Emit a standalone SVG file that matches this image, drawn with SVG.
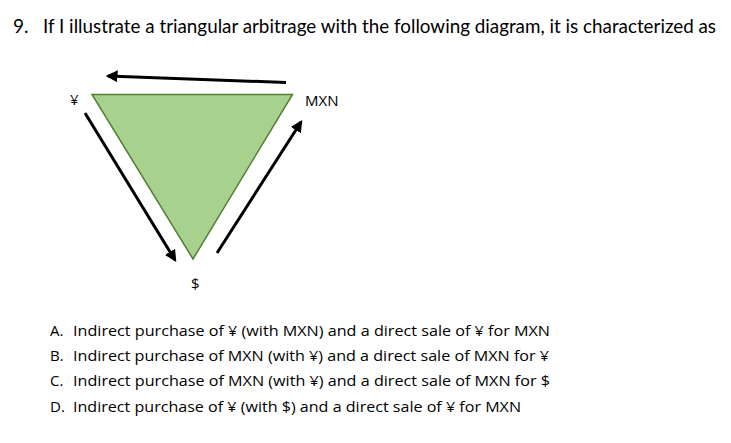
<svg xmlns="http://www.w3.org/2000/svg" width="731" height="443" viewBox="0 0 731 443">
<style>
.title{font-family:Lato,"Liberation Sans",sans-serif;font-size:19px;fill:#000}
.opt{font-family:"Open Sans","Noto Sans",sans-serif;font-size:15px;fill:#000}
.lbl{font-family:"Open Sans","Noto Sans",sans-serif;font-size:15px;fill:#000}
.arr{stroke:#000;stroke-width:3;fill:none;marker-end:url(#ah)}
</style>
<defs>
<marker id="ah" viewBox="0 0 10 10" refX="8" refY="5" markerWidth="4" markerHeight="4" orient="auto" markerUnits="strokeWidth">
<path d="M0,0 L10,5 L0,10 z" fill="#000"/>
</marker>
</defs>
<rect width="731" height="443" fill="#fff"/>
<g id="title">
<text class="title" x="13" y="33">9.</text>
<text class="title" x="43" y="33" textLength="673" lengthAdjust="spacingAndGlyphs">If I illustrate a triangular arbitrage with the following diagram, it is characterized as</text>
</g>
<g id="triangle">
<polygon points="92,94.5 292.5,94.5 193,259" fill="#A9D18E" stroke="#507E32" stroke-width="1.5" stroke-linejoin="miter"/>
</g>
<g id="node-yen"><text class="lbl" x="70" y="105">¥</text></g>
<g id="node-mxn"><text class="lbl" x="305" y="106">MXN</text></g>
<g id="node-usd"><text class="lbl" x="191" y="289">$</text></g>
<g id="connectors">
<line class="arr" x1="286" y1="82.5" x2="108" y2="76"/>
<line class="arr" x1="85" y1="113" x2="175" y2="260"/>
<line class="arr" x1="217" y1="253" x2="301" y2="122"/>
</g>
<g id="options">
<text class="opt" x="50" y="336">A.</text>
<text class="opt" x="73" y="336" textLength="477" lengthAdjust="spacingAndGlyphs">Indirect purchase of ¥ (with MXN) and a direct sale of ¥ for MXN</text>
<text class="opt" x="50" y="361">B.</text>
<text class="opt" x="73" y="361" textLength="476" lengthAdjust="spacingAndGlyphs">Indirect purchase of MXN (with ¥) and a direct sale of MXN for ¥</text>
<text class="opt" x="50" y="386">C.</text>
<text class="opt" x="73" y="386" textLength="477" lengthAdjust="spacingAndGlyphs">Indirect purchase of MXN (with ¥) and a direct sale of MXN for $</text>
<text class="opt" x="50" y="412">D.</text>
<text class="opt" x="73" y="412" textLength="448" lengthAdjust="spacingAndGlyphs">Indirect purchase of ¥ (with $) and a direct sale of ¥ for MXN</text>
</g>
</svg>
